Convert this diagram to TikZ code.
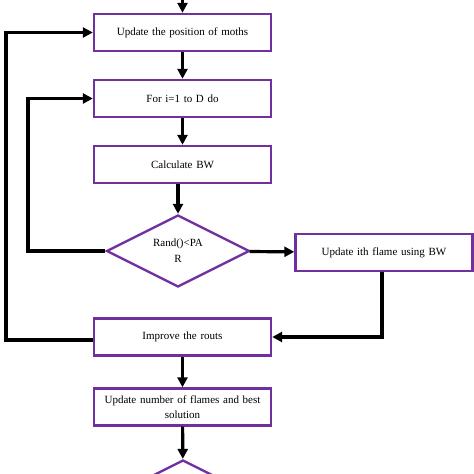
\documentclass[tikz,border=0pt]{standalone}
\usepackage{fontspec}
\setmainfont{Liberation Serif}
\usetikzlibrary{shapes.geometric,arrows.meta}

\definecolor{boxpurple}{HTML}{7030A0}

\tikzset{
	stepbox/.style={rectangle, draw=boxpurple, line width=2.4pt, fill=white,
		minimum width=177pt, minimum height=37pt, inner sep=2pt,
		text width=170pt, align=center, font=\fontsize{11}{15}\selectfont},
	decision/.style={diamond, draw=boxpurple, line width=2.4pt, fill=white,
		aspect=2, minimum width=143pt, minimum height=72pt, inner sep=0pt,
		align=center, font=\fontsize{11}{16}\selectfont},
	flow/.style={line width=3.2pt, -{Triangle[length=10pt,width=10pt]}},
}

\begin{document}
\begin{tikzpicture}[x=1pt, y=-1pt]
		
		\useasboundingbox (0,0) rectangle (474,474);
		
		\coordinate (start) at (182.5,-4);
		\coordinate (outerL) at (6,340);
		\coordinate (innerL) at (28,251);
		
		% Node
		
		\node[stepbox] (moths) at (182.5,32.5) {Update the position of moths};
		\node[stepbox] (loop) at (182.5,98.5) {For i=1 to D do};
		\node[stepbox] (calc) at (182.5,164.5) {Calculate BW};
		\node[decision] (rand) at (178,251) {Rand()<PA\\R};
		\node[stepbox] (flame) at (384,252.5) {Update ith flame using BW};
		\node[stepbox] (improve) at (182.5,337) {Improve the routs};
		\node[stepbox] (best) at (182.5,407) {Update number of flames and best\\solution};
		\node[decision] (stop) at (183,496) {};
		
		% EDGE
		
		\draw[flow] (start) -- (moths);
		\draw[flow] (moths) -- (loop);
		\draw[flow] (loop.south) -- (loop.south |- calc.north);
		\draw[flow] (rand.north |- calc.south) -- (rand.north);
		\draw[flow] (rand) -- (flame);
		\draw[flow] ([xshift=-2pt]flame.south) |- (improve.east);
		\draw[flow] (improve.west |- outerL) -- (outerL) |- (moths.west);
		\draw[flow] (rand.west) -- (rand.west -| innerL) |- (loop.west);
		\draw[flow] (improve) -- (best);
		\draw[flow] (best) -- (stop);
		
\end{tikzpicture}
\end{document}
